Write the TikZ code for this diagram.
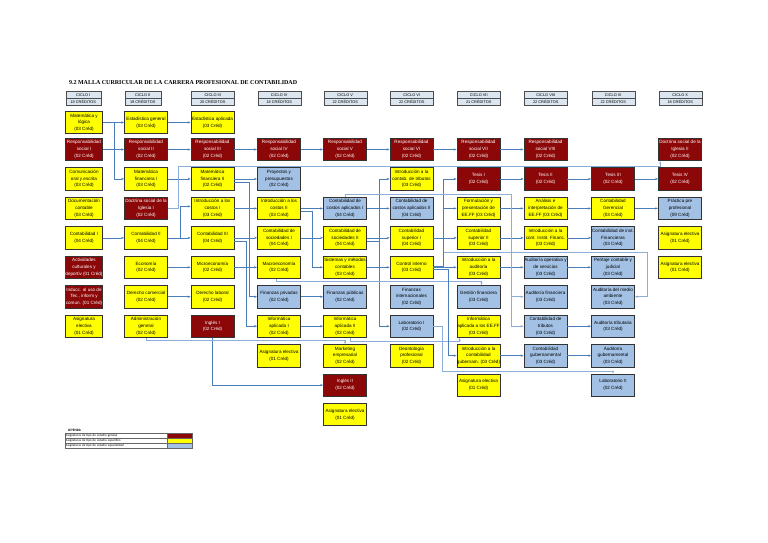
\documentclass[tikz,border=0pt]{standalone}
\usepackage{fontspec}
\setmainfont{Liberation Serif}
\newfontfamily\arialfont{Liberation Sans}
\newfontfamily\calibrifont{Carlito}
\usetikzlibrary{arrows.meta}
\definecolor{rojo}{RGB}{140,8,8}
\definecolor{amarillo}{RGB}{255,255,0}
\definecolor{celeste}{RGB}{162,193,228}
\definecolor{cabecera}{RGB}{220,230,241}
\definecolor{linea}{RGB}{74,126,187}
\definecolor{lineaclara}{RGB}{140,174,216}
\def\colx{{84,146,212.5,279,345,411.5,478.5,545.5,613,680}}

\begin{document}
\begin{tikzpicture}[x=1pt,y=-1pt,
  curso/.style={draw=black!80, line width=0.7pt, minimum height=22.4pt, inner sep=0pt, align=center, font=\arialfont\fontsize{4.6}{6.7}\selectfont},
  general/.style={curso, fill=rojo, text=white},
  especifico/.style={curso, fill=amarillo},
  especialidad/.style={curso, fill=celeste},
  ciclo/.style={draw=black!70, fill=cabecera, line width=0.5pt, minimum height=6.7pt, inner sep=0pt, anchor=west, font=\arialfont\fontsize{3.9}{3.9}\selectfont},
  leyfila/.style={draw=black!60, line width=0.3pt, anchor=north west, text width=100pt, minimum height=5pt, inner sep=0.8pt, align=left, font=\calibrifont\fontsize{3.2}{3.2}\selectfont},
  leycolor/.style={draw=black!60, line width=0.3pt, anchor=north west, minimum width=25pt, minimum height=5pt, inner sep=0pt},
  link/.style={draw=linea, line width=0.55pt, -{Stealth[length=3pt,width=2.2pt]}},
  faint/.style={link, draw=lineaclara}]

    \fill[white] (0,0) rectangle (768,543);
    \useasboundingbox (0,0) rectangle (768,543);

    % Title
    \node[anchor=base west, font=\bfseries\fontsize{6}{6}\selectfont] (titulo) at (65.5,84.7) {9.2 MALLA CURRICULAR DE LA CARRERA PROFESIONAL DE CONTABILIDAD};

    % Cycle headers
    \foreach \col/\rom/\cred in {1/I/18, 2/II/19, 3/III/20, 4/IV/18, 5/V/22, 6/VI/22, 7/VII/21, 8/VIII/22, 9/IX/22, 10/X/18} {
      \pgfmathsetmacro\xx{\colx[\col-1]}
      \pgfmathsetmacro\ww{\col==1 ? 37 : 43}
      \pgfmathsetmacro\hw{\col==1 ? 35 : (\col==2 ? 36 : 43)}
      \node[ciclo, minimum width=\hw pt] (ciclo\col) at (\xx-\ww/2,95) {CICLO \rom};
      \node[ciclo, minimum width=\hw pt] (cred\col) at (\xx-\ww/2,101.7) {\cred\ CRÉDITOS};
    }

    % Courses: cycle/row/type/name
    \foreach \col/\row/\tipo/\nom in {
      1/1/especifico/{Matemática y\\lógica\\(03 Créd)},
      1/2/general/{Responsabilidad\\social I\\(02 Créd)},
      1/3/especifico/{Comunicación\\oral y escrita\\(03 Créd)},
      1/4/especifico/{Documentación\\contable\\(03 Créd)},
      1/5/especifico/{Contabilidad I\\(04 Créd)},
      1/6/general/{Actividades\\culturales y\\deportiv (01 Créd)},
      1/7/general/{Inducc. al uso de\\Tec., inform y\\comun. (01 Créd)},
      1/8/especifico/{Asignatura\\electiva\\(01 Créd)},
      2/1/especifico/{Estadística general\\(03 Créd)},
      2/2/general/{Responsabilidad\\social II\\(02 Créd)},
      2/3/especifico/{Matemática\\financiera I\\(03 Créd)},
      2/4/general/{Doctrina social de la\\Iglesia I\\(02 Créd)},
      2/5/especifico/{Contabilidad II\\(04 Créd)},
      2/6/especifico/{Economía\\(02 Créd)},
      2/7/especifico/{Derecho comercial\\(02 Créd)},
      2/8/especifico/{Administración\\general\\(02 Créd)},
      3/1/especifico/{Estadística aplicada\\(03 Créd)},
      3/2/general/{Responsabilidad\\social III\\(02 Créd)},
      3/3/especifico/{Matemática\\financiera II\\(02 Créd)},
      3/4/especifico/{Introducción a los\\costos I\\(03 Créd)},
      3/5/especifico/{Contabilidad III\\(04 Créd)},
      3/6/especifico/{Microeconomía\\(02 Créd)},
      3/7/especifico/{Derecho laboral\\(02 Créd)},
      3/8/general/{Inglés I\\(02 Créd)},
      4/2/general/{Responsabilidad\\social IV\\(02 Créd)},
      4/3/especialidad/{Proyectos y\\presupuestos\\(02 Créd)},
      4/4/especifico/{Introducción a los\\costos II\\(03 Créd)},
      4/5/especifico/{Contabilidad de\\sociedades I\\(04 Créd)},
      4/6/especifico/{Macroeconomía\\(02 Créd)},
      4/7/especialidad/{Finanzas privadas\\(02 Créd)},
      4/8/especifico/{Informática\\aplicada I\\(02 Créd)},
      4/9/especifico/{Asignatura electiva\\(01 Créd)},
      5/2/general/{Responsabilidad\\social V\\(02 Créd)},
      5/4/especialidad/{Contabilidad de\\costos aplicados I\\(04 Créd)},
      5/5/especifico/{Contabilidad de\\sociedades II\\(04 Créd)},
      5/6/especifico/{Sistemas y métodos\\contables\\(03 Créd)},
      5/7/especialidad/{Finanzas públicas\\(02 Créd)},
      5/8/especifico/{Informática\\aplicada II\\(02 Créd)},
      5/9/especifico/{Marketing\\empresarial\\(02 Créd)},
      5/10/general/{Inglés II\\(02 Créd)},
      5/11/especifico/{Asignatura electiva\\(01 Créd)},
      6/2/general/{Responsabilidad\\social VI\\(02 Créd)},
      6/3/especifico/{Introducción a la\\contab. de tributos\\(03 Créd)},
      6/4/especialidad/{Contabilidad de\\costos aplicados II\\(04 Créd)},
      6/5/especifico/{Contabilidad\\superior I\\(04 Créd)},
      6/6/especifico/{Control interno\\(03 Créd)},
      6/7/especialidad/{Finanzas\\internacionales\\(02 Créd)},
      6/8/especialidad/{Laboratorio I\\(02 Créd)},
      6/9/especifico/{Deontología\\profesional\\(02 Créd)},
      7/2/general/{Responsabilidad\\social VII\\(02 Créd)},
      7/3/general/{Tesis I\\(02 Créd)},
      7/4/especifico/{Formulación y\\presentación de\\EE.FF (03 Créd)},
      7/5/especifico/{Contabilidad\\superior II\\(03 Créd)},
      7/6/especifico/{Introducción a la\\auditoría\\(03 Créd)},
      7/7/especialidad/{Gestión financiera\\(03 Créd)},
      7/8/especifico/{Informática\\aplicada a los EE.FF\\(03 Créd)},
      7/9/especifico/{Introducción a la\\contabilidad\\gubernam. (03 Créd)},
      7/10/especifico/{Asignatura electiva\\(01 Créd)},
      8/2/general/{Responsabilidad\\social VIII\\(02 Créd)},
      8/3/general/{Tesis II\\(02 Créd)},
      8/4/especifico/{Análisis e\\interpretación de\\EE.FF (03 Créd)},
      8/5/especifico/{Introducción a la\\cont. Instit. Financ.\\(03 Créd)},
      8/6/especialidad/{Auditoría operativa y\\de servicios\\(03 Créd)},
      8/7/especialidad/{Auditoría financiera\\(03 Créd)},
      8/8/especialidad/{Contabilidad de\\tributos\\(03 Créd)},
      8/9/especialidad/{Contabilidad\\gubernamental\\(03 Créd)},
      9/3/general/{Tesis III\\(02 Créd)},
      9/4/especifico/{Contabilidad\\Gerencial\\(03 Créd)},
      9/5/especialidad/{Contabilidad de inst.\\Financieras\\(03 Créd)},
      9/6/especialidad/{Peritaje contable y\\judicial\\(03 Créd)},
      9/7/especialidad/{Auditoría del medio\\ambiente\\(03 Créd)},
      9/8/especialidad/{Auditoría tributaria\\(03 Créd)},
      9/9/especialidad/{Auditoría\\gubernamental\\(03 Créd)},
      9/10/especialidad/{Laboratorio II\\(02 Créd)},
      10/2/general/{Doctrina social de la\\Iglesia II\\(02 Créd)},
      10/3/general/{Tesis IV\\(02 Créd)},
      10/4/especialidad/{Práctica pre\\profesional\\(09 Créd)},
      10/5/especifico/{Asignatura electiva\\(01 Créd)},
      10/6/especifico/{Asignatura electiva\\(01 Créd)}} {
      \pgfmathsetmacro\xx{\colx[\col-1]}
      \pgfmathsetmacro\yy{\row==1 ? 122.5 : 149.5+(\row-2)*29.45}
      \pgfmathsetmacro\ww{\col==1 ? 37 : 43}
      \node[\tipo, minimum width=\ww pt] (c\col-\row) at (\xx,\yy) {\nom};
    }

    % Straight prerequisites
    \foreach \a/\b in {c1-1/c2-1, c2-1/c3-1,
      c1-2/c2-2, c2-2/c3-2, c3-2/c4-2, c4-2/c5-2, c5-2/c6-2, c6-2/c7-2, c7-2/c8-2,
      c2-3/c3-3, c3-3/c4-3, c7-3/c8-3, c8-3/c9-3, c9-3/c10-3,
      c3-4/c4-4, c4-4/c5-4, c5-4/c6-4, c7-4/c8-4, c8-4/c9-4, c9-4/c10-4,
      c1-5/c2-5, c2-5/c3-5, c3-5/c4-5, c4-5/c5-5, c5-5/c6-5, c6-5/c7-5, c7-5/c8-5, c8-5/c9-5,
      c2-6/c3-6, c3-6/c4-6, c5-6/c6-6, c6-6/c7-6, c7-6/c8-6, c8-6/c9-6,
      c2-7/c3-7, c4-7/c5-7, c4-8/c5-8, c8-8/c9-8, c7-9/c8-9, c8-9/c9-9}
      \draw[link] (\a.east) -- (\b.west);

    % Elbow prerequisites
    \draw[link] (c1-1.east) -- ++(11.5,0) |- (c2-3.west);
    \draw[faint] (c2-4.east) -- ++(10.8,0) |- ([shift={(2,5)}]c10-2.south west) -- ([xshift=2pt]c10-2.south west);
    \draw[link] (c2-5.east) -- ++(12.5,0) |- ([yshift=2pt]c3-4.west);
    \draw[link] ([yshift=-3pt]c3-3.east) -- ++(15,0) |- (c4-7.west);
    \draw[link] ([yshift=-3pt]c3-5.east) -- ++(12,0) |- (c4-8.west);
    \draw[link] ([yshift=-3pt]c4-4.east) -- ++(11,0) |- (c5-6.west);
    \draw[link] ([yshift=-3pt]c5-5.east) -- ++(12,0) |- (c6-3.west);
    \draw[link] ([yshift=-3pt]c5-5.east) -- ++(12,0) |- (c6-8.west);
    \draw[faint] ([xshift=-3pt]c4-6.south) |- ([shift={(3,-4)}]c7-7.north) -- ([xshift=3pt]c7-7.north);
    \draw[link] (c3-8.south) |- (c5-10.west);
    \draw[faint] (c2-8.south) |- ([yshift=4pt]c5-9.north) -- (c5-9.north);
    \draw[faint] ([xshift=5pt]c5-8.south) |- ([shift={(3,4)}]c7-8.south west) -- ([xshift=3pt]c7-8.south west);
    \draw[faint] (c6-8.east) -- ++(8.7,0) |- ([yshift=2.6pt]c9-10.north) -- (c9-10.north);
    \draw[link] ([yshift=1.5pt]c6-6.east) -- ++(10.3,0) |- (c7-3.west);
    \draw[link] ([yshift=1.5pt]c6-6.east) -- ++(10.3,0) |- (c7-4.west);
    \draw[faint] (c6-6.east) ++(10.3,-15.2) -| ([xshift=12pt]c9-7.east) -- (c9-7.east);
    \draw[link] ([yshift=-2pt]c6-6.east) -- ++(15,0) |- (c7-9.west);
    \draw[faint] (c5-4.north) -- ++(0,-2.5) -| ([xshift=-12pt]c8-8.west) -- (c8-8.west);
    \draw[faint] ([xshift=-12pt]c8-7.west) -- (c8-7.west);

    % Legend
    \node[anchor=west, font=\calibrifont\bfseries\fontsize{3.4}{3.4}\selectfont] (leyenda) at (64.5,430) {LEYENDA};
    \foreach \i/\tipotxt/\colr in {0/general/rojo, 1/específico/amarillo, 2/especialidad/celeste} {
      \node[leyfila] (ley\i) at (65,433.3+\i*5) {Asignaturas de tipo de estudio \tipotxt};
      \node[leycolor, fill=\colr] (muestra\i) at (166.7,433.3+\i*5) {};
    }

\end{tikzpicture}
\end{document}
